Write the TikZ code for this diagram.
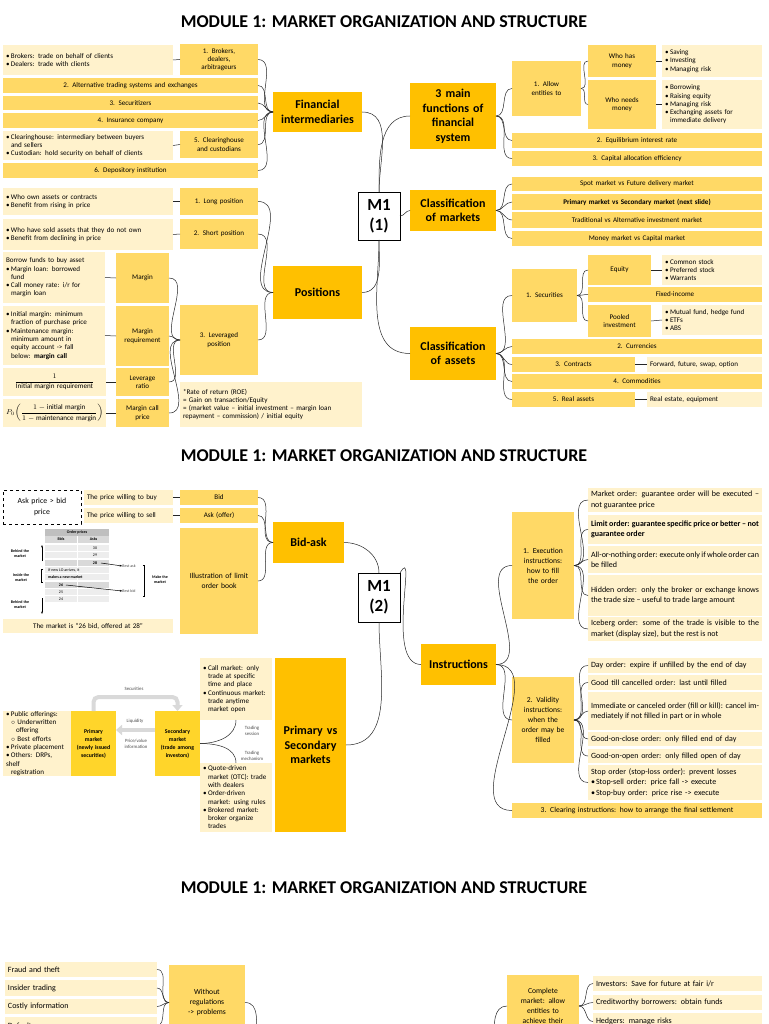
\documentclass[tikz,border=0pt]{standalone}
\usepackage{amsmath}
\usepackage{fontspec}
\setmainfont{Carlito}
\usetikzlibrary{arrows.meta}
\definecolor{dk}{HTML}{FFC000}
\definecolor{md}{HTML}{FFD966}
\definecolor{lt}{HTML}{FFF2CC}
\definecolor{yl}{HTML}{FFD52A}
\definecolor{tg}{HTML}{D9D9D9}
\definecolor{tl}{HTML}{EDEDED}
\newcommand\sm{\fontsize{7.1}{8.3}\selectfont}
\newcommand\bul{\makebox[5pt][l]{\textbullet}}
\newcommand\ind{\hspace*{5pt}}
\newcommand\bx[7]{\pgfmathsetmacro\bw{#5-#3}\pgfmathsetmacro\bh{#6-#4}\pgfmathsetmacro\tw{#5-#3-6}%
\node[#2,minimum width=\bw pt,minimum height=\bh pt,text width=\tw pt] (#1) at ({(#3+#5)/2},{-(#4+#6)/2}) {#7};}
\newcommand\linkL[2]{\draw[conn] (#1.west) to[out=180,in=0] (#2.east);}
\newcommand\linkR[2]{\draw[conn] (#1.east) to[out=0,in=180] (#2.west);}
\tikzset{
 box/.style={inner sep=0pt,outer sep=0pt},
 light/.style={box,fill=lt,font=\sm,align=left},
 lightc/.style={box,fill=lt,font=\sm,align=center},
 lightj/.style={box,fill=lt,font=\fontsize{8}{10.5}\selectfont,align=justify},
 lightl/.style={box,fill=lt,font=\fontsize{8}{10.5}\selectfont,align=left},
 mid/.style={box,fill=md,font=\sm,align=center},
 midb/.style={box,fill=md,font=\fontsize{7.6}{10}\selectfont,align=center},
 dark/.style={box,fill=dk,font=\bfseries\fontsize{12}{14.5}\selectfont,align=center},
 yel/.style={box,fill=yl,font=\bfseries\fontsize{5.8}{8}\selectfont,align=center},
 mbox/.style={box,draw=black,line width=0.8pt,fill=white,font=\bfseries\fontsize{17}{20}\selectfont,align=center},
 dashbox/.style={box,draw=black,dashed,line width=0.7pt,fill=white,font=\fontsize{7.8}{10.5}\selectfont,align=center},
 conn/.style={draw=black!85,line width=0.5pt},
 ttl/.style={font=\bfseries\fontsize{18}{21}\selectfont},
 tiny/.style={font=\fontsize{4}{5}\selectfont,inner sep=0pt,align=center},
 garrow/.style={draw=tg,line width=4pt,-{Triangle[length=6pt,width=10pt]}},
 glab/.style={font=\fontsize{4.8}{5.8}\selectfont,text=black!70,align=center,inner sep=0pt},
}
\begin{document}
\begin{tikzpicture}[x=1pt,y=1pt]
\path[use as bounding box] (0,0) rectangle (768,-1024);
\clip (0,0) rectangle (768,-1024);
\fill[white] (0,0) rectangle (768,-1024);

% ===== Slide 1 =====
\node[ttl] (t1) at (384,-22) {MODULE 1: MARKET ORGANIZATION AND STRUCTURE};
\bx{bro}{light}{3}{45}{173}{75}{\bul Brokers: trade on behalf of clients\\\bul Dealers: trade with clients}
\bx{fi1}{mid}{180}{44}{258}{75}{1. Brokers,\\dealers,\\arbitrageurs}
\bx{fi2}{mid}{3}{78}{258}{93}{2. Alternative trading systems and exchanges}
\bx{fi3}{mid}{3}{96}{258}{110}{3. Securitizers}
\bx{fi4}{mid}{3}{113}{258}{128}{4. Insurance company}
\bx{clr}{light}{3}{131}{173}{160}{\bul Clearinghouse: intermediary between buyers\\\ind and sellers\\\bul Custodian: hold security on behalf of clients}
\bx{fi5}{mid}{180}{131}{258}{158}{5. Clearinghouse\\and custodians}
\bx{fi6}{mid}{3}{163}{258}{178}{6. Depository institution}
\bx{fin}{dark}{273}{92}{362}{132}{Financial\\intermediaries}

\bx{lng}{light}{3}{188}{173}{215}{\bul Who own assets or contracts\\\bul Benefit from rising in price}
\bx{po1}{mid}{180}{188}{258}{215}{1. Long position}
\bx{sht}{light}{3}{219}{173}{250}{\bul Who have sold assets that they do not own\\\bul Benefit from declining in price}
\bx{po2}{mid}{180}{219}{258}{249}{2. Short position}
\bx{bor}{light}{3}{252}{105}{303}{Borrow funds to buy asset\\\bul Margin loan: borrowed\\\ind fund\\\bul Call money rate: i/r for\\\ind margin loan}
\bx{mg1}{mid}{116}{253}{169}{303}{Margin}
\bx{ini}{light}{3}{306}{105}{365}{\bul Initial margin: minimum\\\ind fraction of purchase price\\\bul Maintenance margin:\\\ind minimum amount in\\\ind equity account -> fall\\\ind below: \textbf{margin call}}
\bx{mg2}{mid}{116}{306}{169}{366}{Margin\\requirement}
\bx{frac}{lightc}{3}{368}{106}{396}{$\dfrac{1}{\text{Initial margin requirement}}$}
\bx{mg3}{mid}{116}{368}{169}{396}{Leverage\\ratio}
\bx{p0}{lightc}{3}{399}{106}{427}{$P_0\!\left(\dfrac{1-\text{initial margin}}{1-\text{maintenance margin}}\right)$}
\bx{mg4}{mid}{116}{399}{169}{427}{Margin call\\price}
\bx{po3}{mid}{180}{305}{258}{375}{3. Leveraged\\position}
\bx{roe}{light}{180}{382}{362}{427}{*Rate of return (ROE)\\= Gain on transaction/Equity\\= (market value -- initial investment -- margin loan\\repayment -- commission) / initial equity}
\bx{pos}{dark}{273}{266}{362}{319}{Positions}
\bx{m1}{mbox}{358}{192}{400}{240}{M1\\(1)}

\bx{tmf}{dark}{410}{83}{496}{149}{3 main\\functions of\\financial\\system}
\bx{ae}{mid}{512}{61}{581}{116}{1. Allow\\entities to}
\bx{whm}{mid}{588}{45}{656}{77}{Who has\\money}
\bx{sav}{light}{662}{45}{762}{77}{\bul Saving\\\bul Investing\\\bul Managing risk}
\bx{wnm}{mid}{588}{80}{656}{129}{Who needs\\money}
\bx{brw}{light}{662}{80}{762}{129}{\bul Borrowing\\\bul Raising equity\\\bul Managing risk\\\bul Exchanging assets for\\\ind immediate delivery}
\bx{eqr}{mid}{512}{133}{762}{148}{2. Equilibrium interest rate}
\bx{cap}{mid}{512}{151}{762}{166}{3. Capital allocation efficiency}
\bx{com}{dark}{410}{190}{496}{231}{Classification\\of markets}
\bx{cm1}{mid}{512}{177}{762}{191}{Spot market vs Future delivery market}
\bx{cm2}{mid}{512}{194}{762}{210}{\textbf{Primary market vs Secondary market (next slide)}}
\bx{cm3}{mid}{512}{212}{762}{228}{Traditional vs Alternative investment market}
\bx{cm4}{mid}{512}{231}{762}{246}{Money market vs Capital market}
\bx{equ}{mid}{588}{255}{651}{285}{Equity}
\bx{eql}{light}{662}{255}{762}{285}{\bul Common stock\\\bul Preferred stock\\\bul Warrants}
\bx{sec}{mid}{512}{269}{577}{322}{1. Securities}
\bx{fix}{mid}{588}{287}{762}{302}{Fixed-income}
\bx{poo}{mid}{588}{305}{651}{337}{Pooled\\investment}
\bx{pol}{light}{662}{305}{762}{335}{\bul Mutual fund, hedge fund\\\bul ETFs\\\bul ABS}
\bx{coa}{dark}{410}{327}{496}{380}{Classification\\of assets}
\bx{cur}{mid}{512}{339}{762}{354}{2. Currencies}
\bx{con}{mid}{512}{357}{635}{372}{3. Contracts}
\bx{fwd}{light}{647}{357}{762}{372}{Forward, future, swap, option}
\bx{cmd}{mid}{512}{374}{762}{389}{4. Commodities}
\bx{rea}{mid}{512}{392}{635}{407}{5. Real assets}
\bx{rel}{light}{647}{392}{762}{407}{Real estate, equipment}

% connectors slide 1
\draw[conn] (bro.east) -- (fi1.west);
\draw[conn] (clr.east) -- (fi5.west);
\foreach \c in {fi1,fi2,fi3,fi4,fi5,fi6} {\linkL{fin}{\c}}
\draw[conn] (lng.east) -- (po1.west);
\draw[conn] (sht.east) -- (po2.west);
\draw[conn] (bor.east) -- (mg1.west);
\draw[conn] (ini.east) -- (mg2.west);
\draw[conn] (frac.east) -- (mg3.west);
\draw[conn] (p0.east) -- (mg4.west);
\foreach \c in {mg1,mg2,mg3,mg4} {\linkL{po3}{\c}}
\foreach \c in {po1,po2,po3} {\linkL{pos}{\c}}
\draw[conn] (m1.north) to[out=90,in=0] (fin.east);
\draw[conn] (m1.north) to[out=90,in=180] (tmf.west);
\draw[conn] (m1.east) to[out=0,in=180] (com.west);
\draw[conn] (m1.south) to[out=-90,in=0] (pos.east);
\draw[conn] (m1.south) to[out=-90,in=180] (coa.west);
\foreach \c in {ae,eqr,cap} {\linkR{tmf}{\c}}
\foreach \c in {whm,wnm} {\linkR{ae}{\c}}
\draw[conn] (whm.east) -- (sav.west);
\draw[conn] (wnm.east) -- (brw.west);
\foreach \c in {cm1,cm2,cm3,cm4} {\linkR{com}{\c}}
\foreach \c in {sec,cur,con,cmd,rea} {\linkR{coa}{\c}}
\foreach \c in {equ,fix,poo} {\linkR{sec}{\c}}
\draw[conn] (equ.east) -- (eql.west);
\draw[conn] (poo.east) -- (pol.west);
\draw[conn] (con.east) -- (fwd.west);
\draw[conn] (rea.east) -- (rel.west);

% ===== Slide 2 =====
\node[ttl] (t2) at (384,-456) {MODULE 1: MARKET ORGANIZATION AND STRUCTURE};
\bx{apb}{dashbox}{3}{490}{81}{524}{Ask price > bid\\price}
\bx{pwb}{light}{84}{490}{173}{505}{The price willing to buy}
\bx{bid}{mid}{180}{490}{258}{505}{Bid}
\bx{pws}{light}{84}{508}{173}{523}{The price willing to sell}
\bx{ask}{mid}{180}{508}{258}{523}{Ask (offer)}
\bx{ill}{midb}{180}{528}{258}{634}{Illustration of limit\\order book}
\bx{ba}{dark}{273}{522}{344}{563}{Bid-ask}
\bx{mkt}{lightc}{3}{619}{173}{633}{The market is ``26 bid, offered at 28''}
\bx{m2}{mbox}{358}{573}{400}{622}{M1\\(2)}

% order book table
\fill[black!25] (45,-529) rectangle (109,-535.5);
\fill[tg] (45,-536) rectangle (77,-542.5);
\fill[tg] (78,-536) rectangle (109,-542.5);
\foreach \ya/\yb in {545/551,552/558,567/573,574/580,589/595,596/602}{
 \fill[tl] (45,-\ya) rectangle (77,-\yb); \fill[tl] (78,-\ya) rectangle (109,-\yb);}
\fill[tg] (45,-560) rectangle (77,-566); \fill[tg] (78,-560) rectangle (109,-566);
\fill[tg] (45,-582) rectangle (77,-588); \fill[tg] (78,-582) rectangle (109,-588);
\node[tiny,font=\bfseries\fontsize{4}{5}\selectfont] (op) at (77,-532.2) {Order prices};
\node[tiny,font=\bfseries\fontsize{4}{5}\selectfont] (hb) at (61,-539.2) {Bids};
\node[tiny,font=\bfseries\fontsize{4}{5}\selectfont] (ha) at (93.5,-539.2) {Asks};
\node[tiny] (a30) at (95,-548) {30};
\node[tiny] (a29) at (95,-555) {29};
\node[tiny,font=\bfseries\fontsize{4}{5}\selectfont] (a28) at (95,-563) {28};
\node[tiny,anchor=west] (lo1) at (48,-570) {If new LO arrives, it};
\node[tiny,anchor=west,font=\bfseries\fontsize{4}{5}\selectfont] (lo2) at (48,-577) {makes a new market};
\node[tiny,font=\bfseries\fontsize{4}{5}\selectfont] (b26) at (61,-585) {26};
\node[tiny] (b25) at (61,-592) {25};
\node[tiny] (b24) at (61,-599) {24};
\node[tiny,font=\bfseries\fontsize{4}{5}\selectfont] (bh1) at (20,-554) {Behind the\\market};
\node[tiny,font=\bfseries\fontsize{4}{5}\selectfont] (im) at (21,-578) {Inside the\\market};
\node[tiny,font=\bfseries\fontsize{4}{5}\selectfont] (bh2) at (20,-605) {Behind the\\market};
\draw[-{Stealth[length=2.5pt]},line width=0.5pt] (42,-561) -- (42,-545);
\draw[-{Stealth[length=2.5pt]},line width=0.5pt] (42,-598) -- (42,-614);
\draw[line width=0.4pt] (43,-569) -- (41.5,-569) -- (41.5,-582) -- (43,-582);
\node[tiny,text=black!70] (bask) at (129,-566) {Best ask};
\node[tiny,text=black!70] (bbid) at (129,-591) {Best bid};
\draw[-{Stealth[length=2.5pt]},line width=0.5pt] (101,-563) -- (bask.west);
\draw[-{Stealth[length=2.5pt]},line width=0.5pt] (66,-585) -- (bbid.west);
\draw[line width=0.4pt] (143,-565) -- (144.5,-565) -- (144.5,-596) -- (143,-596);
\node[tiny,font=\bfseries\fontsize{4}{5}\selectfont] (mtm) at (160,-580) {Make the\\market};

\bx{call}{light}{200}{658}{272}{720}{\bul Call market: only\\\ind trade at specific\\\ind time and place\\\bul Continuous market:\\\ind trade anytime\\\ind market open}
\bx{quo}{light}{200}{763}{272}{832}{\bul Quote-driven\\\ind market (OTC): trade\\\ind with dealers\\\bul Order-driven\\\ind market: using rules\\\bul Brokered market:\\\ind broker organize\\\ind trades}
\bx{pvs}{dark}{275}{658}{346}{832}{Primary vs\\Secondary\\markets}
\bx{pub}{light}{3}{711}{71}{776}{\bul Public offerings:\\\ind $\circ$ Underwritten\\\ind\ind offering\\\ind $\circ$ Best efforts\\\bul Private placement\\\bul Others: DRPs, shelf\\\ind registration}
\bx{prm}{yel}{71}{711}{116}{776}{Primary\\market\\(newly issued\\securities)}
\bx{scm}{yel}{155}{711}{200}{776}{Secondary\\market\\(trade among\\investors)}
\draw[garrow,rounded corners=5pt] (prm.north) |- (150,-697) -| (scm.north);
\draw[garrow] (155,-730) -- (116,-730);
\node[glab] (lsec) at (134,-689) {Securities};
\node[glab] (lliq) at (135,-721) {Liquidity};
\node[glab] (lpv) at (136,-744) {Price/value\\information};
\draw[conn] (scm.east) to[out=0,in=-90] (call.south);
\draw[conn] (scm.east) to[out=0,in=90] (quo.north);
\node[glab] (lts) at (252,-731) {Trading\\session};
\node[glab] (ltm) at (252,-756) {Trading\\mechanism};

\bx{ins}{dark}{421}{644}{496}{685}{Instructions}
\bx{exe}{midb}{512}{512}{574}{619}{1. Execution\\instructions:\\how to fill\\the order}
\bx{e1}{lightj}{588}{488}{762}{512}{Market order: guarantee order will be executed -- not guarantee price}
\bx{e2}{lightj}{588}{515}{762}{544}{\textbf{Limit order: guarantee specific price or better -- not guarantee order}}
\bx{e3}{lightj}{588}{546}{762}{573}{All-or-nothing order: execute only if whole order can be filled}
\bx{e4}{lightj}{588}{575}{762}{616}{Hidden order: only the broker or exchange knows the trade size -- useful to trade large amount}
\bx{e5}{lightj}{588}{617}{762}{641}{Iceberg order: some of the trade is visible to the market (display size), but the rest is not}
\bx{val}{midb}{512}{677}{574}{763}{2. Validity\\instructions:\\when the\\order may be\\filled}
\bx{v1}{lightl}{588}{658}{762}{673}{Day order: expire if unfilled by the end of day}
\bx{v2}{lightl}{588}{675}{762}{690}{Good till cancelled order: last until filled}
\bx{v3}{lightj}{588}{692}{762}{730}{Immediate or canceled order (fill or kill): cancel immediately if not filled in part or in whole}
\bx{v4}{lightl}{588}{732}{762}{746}{Good-on-close order: only filled end of day}
\bx{v5}{lightl}{588}{749}{762}{763}{Good-on-open order: only filled open of day}
\bx{v6}{lightl}{588}{765}{762}{800}{Stop order (stop-loss order): prevent losses\\\bul Stop-sell order: price fall -> execute\\\bul Stop-buy order: price rise -> execute}
\bx{cli}{midb}{512}{803}{762}{818}{3. Clearing instructions: how to arrange the final settlement}

\draw[conn] (pwb.east) -- (bid.west);
\draw[conn] (pws.east) -- (ask.west);
\foreach \c in {bid,ask,ill} {\linkL{ba}{\c}}
\draw[conn] (m2.north) to[out=90,in=0] (ba.east);
\draw[conn] (m2.south) to[out=-90,in=0] (pvs.east);
\draw[conn] (m2.north east) to[out=60,in=180] (ins.west);
\foreach \c in {exe,val,cli} {\linkR{ins}{\c}}
\foreach \c in {e1,e2,e3,e4,e5} {\linkR{exe}{\c}}
\foreach \c in {v1,v2,v3,v4,v5,v6} {\linkR{val}{\c}}

% ===== Slide 3 =====
\node[ttl] (t3) at (384,-888) {MODULE 1: MARKET ORGANIZATION AND STRUCTURE};
\bx{fr}{lightl}{5}{962}{157}{977}{Fraud and theft}
\bx{it}{lightl}{5}{980}{157}{996}{Insider trading}
\bx{ci}{lightl}{5}{999}{157}{1014}{Costly information}
\bx{df}{lightl}{5}{1017}{157}{1034}{Defaults}
\bx{wr}{midb}{169}{965}{245}{1040}{Without\\regulations\\-> problems}
\foreach \c in {fr,it,ci,df} {\linkL{wr}{\c}}
\coordinate (wout) at (256,-1040);
\draw[conn] (wr.east) to[out=0,in=90] (wout);
\bx{cm}{midb}{507}{975}{579}{1037}{Complete\\market: allow\\entities to\\achieve their}
\bx{iv}{lightl}{593}{976}{762}{991}{Investors: Save for future at fair i/r}
\bx{cb}{lightl}{593}{995}{762}{1010}{Creditworthy borrowers: obtain funds}
\bx{hd}{lightl}{593}{1013}{762}{1030}{Hedgers: manage risks}
\coordinate (cin) at (494,-1040);
\draw[conn] (cin) to[out=90,in=180] (cm.west);
\foreach \c in {iv,cb,hd} {\linkR{cm}{\c}}
\end{tikzpicture}
\end{document}
